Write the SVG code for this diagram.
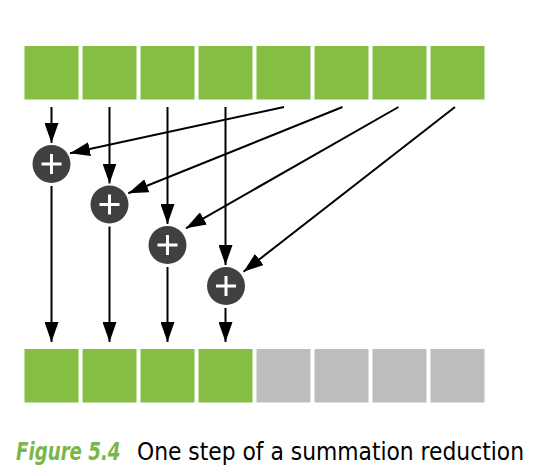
<svg xmlns="http://www.w3.org/2000/svg" width="546" height="476" viewBox="0 0 546 476">
<defs>
<style>
.g{fill:#86bd43}
.x{fill:#bdbdbd}
.c{fill:#404040}
.p{stroke:#fff;stroke-width:3;fill:none}
.l{stroke:#000;stroke-width:2;fill:none}
.a{stroke:#000;stroke-width:2;fill:none;marker-end:url(#ah)}
</style>
<marker id="ah" markerUnits="userSpaceOnUse" markerWidth="20" markerHeight="14" refX="20" refY="7" orient="auto" viewBox="0 0 20 14">
<path d="M0,0 L20,7 L0,14 z" fill="#000"/>
</marker>
</defs>
<rect width="546" height="476" fill="#fff"/>
<g id="top-row">
<rect class="g" x="24.5" y="46" width="54" height="53.5"/>
<rect class="g" x="82.5" y="46" width="54" height="53.5"/>
<rect class="g" x="140.5" y="46" width="54" height="53.5"/>
<rect class="g" x="198.5" y="46" width="54" height="53.5"/>
<rect class="g" x="256.5" y="46" width="54" height="53.5"/>
<rect class="g" x="314.5" y="46" width="54" height="53.5"/>
<rect class="g" x="372.5" y="46" width="54" height="53.5"/>
<rect class="g" x="430.5" y="46" width="54" height="53.5"/>
</g>
<g id="bottom-row">
<rect class="g" x="24.5" y="349" width="54" height="53.5"/>
<rect class="g" x="82.5" y="349" width="54" height="53.5"/>
<rect class="g" x="140.5" y="349" width="54" height="53.5"/>
<rect class="g" x="198.5" y="349" width="54" height="53.5"/>
<rect class="x" x="256.5" y="349" width="54" height="53.5"/>
<rect class="x" x="314.5" y="349" width="54" height="53.5"/>
<rect class="x" x="372.5" y="349" width="54" height="53.5"/>
<rect class="x" x="430.5" y="349" width="54" height="53.5"/>
</g>
<g id="connectors">
<line class="a" x1="51.5" y1="107" x2="51.5" y2="143"/>
<line class="a" x1="109.5" y1="107" x2="109.5" y2="183.5"/>
<line class="a" x1="167.5" y1="107" x2="167.5" y2="224"/>
<line class="a" x1="225.5" y1="107" x2="225.5" y2="265"/>
<line class="a" x1="284" y1="107" x2="70" y2="153.3"/>
<line class="a" x1="342.5" y1="107" x2="128.3" y2="193.3"/>
<line class="a" x1="398.5" y1="107" x2="186" y2="228.3"/>
<line class="a" x1="455" y1="107" x2="243.5" y2="271.7"/>
<line class="a" x1="51.5" y1="186" x2="51.5" y2="342"/>
<line class="a" x1="109.5" y1="226.5" x2="109.5" y2="342"/>
<line class="a" x1="167.5" y1="267" x2="167.5" y2="342"/>
<line class="a" x1="225.5" y1="308" x2="225.5" y2="342"/>
</g>
<g id="add1"><circle class="c" cx="51.5" cy="164" r="19"/><path class="p" d="M41.5,164 H61.5 M51.5,154 V174"/></g>
<g id="add2"><circle class="c" cx="109.5" cy="204.5" r="19"/><path class="p" d="M99.5,204.5 H119.5 M109.5,194.5 V214.5"/></g>
<g id="add3"><circle class="c" cx="167.5" cy="245" r="19"/><path class="p" d="M157.5,245 H177.5 M167.5,235 V255"/></g>
<g id="add4"><circle class="c" cx="226" cy="286" r="19"/><path class="p" d="M216,286 H236 M226,276 V296"/></g>
<g id="caption" font-family="'DejaVu Sans Condensed','Liberation Sans',sans-serif" font-size="24.5">
<text x="16" y="459.5" fill="#7ab648" font-weight="bold" font-style="italic" textLength="104.5" lengthAdjust="spacingAndGlyphs">Figure 5.4</text>
<text x="137" y="459.5" fill="#000" textLength="387" lengthAdjust="spacingAndGlyphs">One step of a summation reduction</text>
</g>
</svg>
